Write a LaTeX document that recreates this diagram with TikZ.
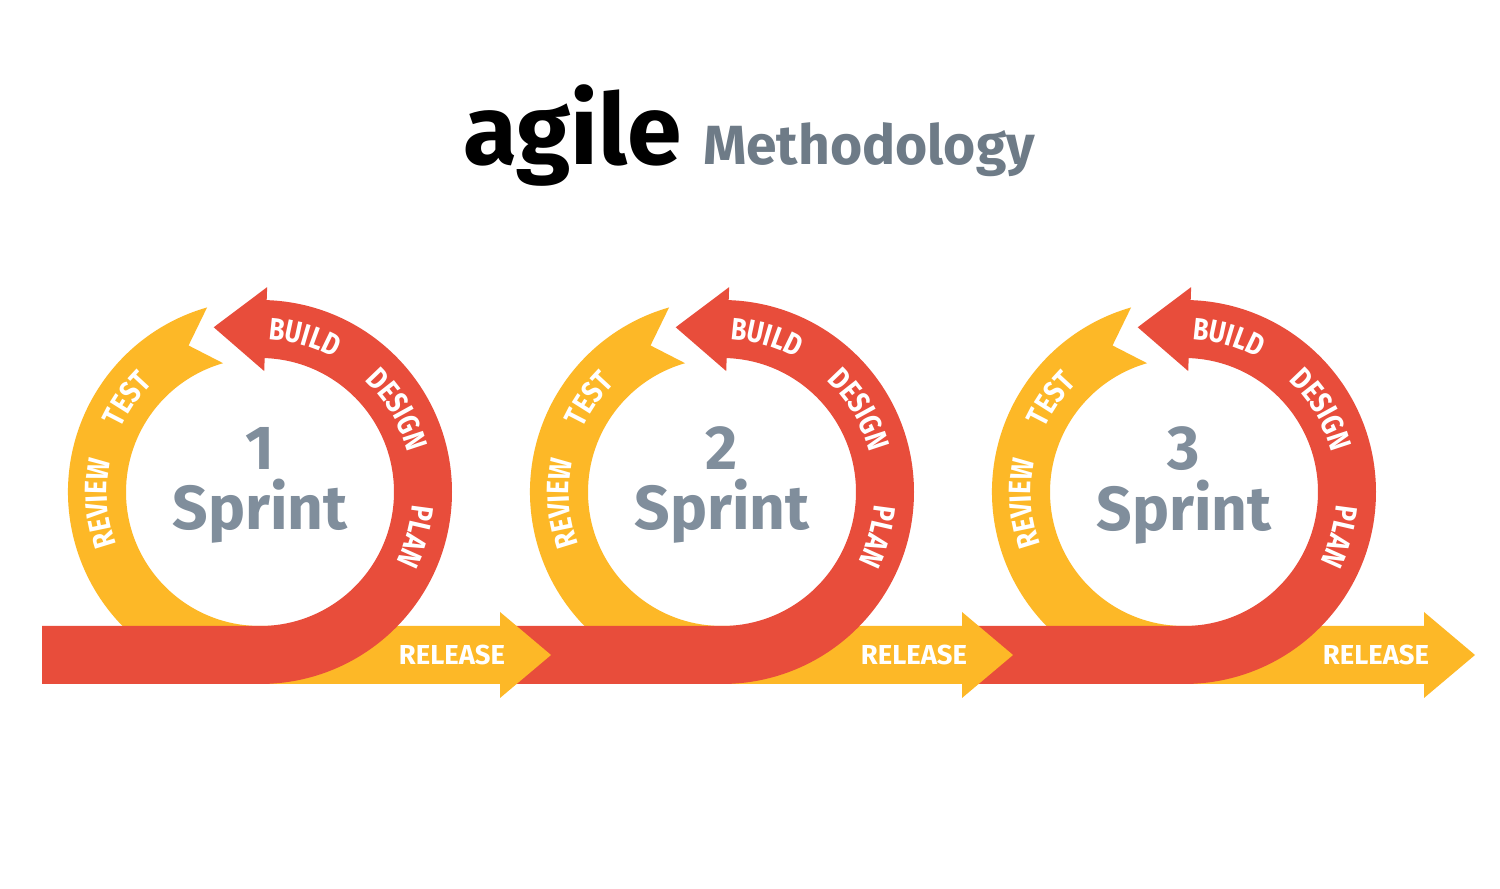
\documentclass[tikz,border=0pt]{standalone}
\usepackage{fontspec}
\setmainfont{Fira Sans}
\newfontfamily\ringfont[FakeStretch=0.82, LetterSpace=6]{Fira Sans}
\usetikzlibrary{positioning, calc, decorations.text}

\definecolor{sprintred}{HTML}{E84D3B}
\definecolor{sprintyellow}{HTML}{FDB827}
\definecolor{sprintgray}{HTML}{808E9C}
\definecolor{titlegray}{HTML}{6E7B87}

\newcommand{\ringlabel}[2]{%
  \path[decorate, decoration={text along path, text align=center, text color=white,
    text={|\ringfont\bfseries\fontsize{8.8}{10}\selectfont|#2}}]
    ({#1+30}:1.53) arc[start angle=#1+30, end angle=#1-30, radius=1.53];}

\begin{document}
\begin{tikzpicture}
    \tikzset{
      headline/.style={inner sep=0pt, font=\bfseries\fontsize{28}{30}\selectfont},
      subline/.style={inner sep=0pt, text=titlegray, font=\bfseries\fontsize{15.7}{18}\selectfont},
      sprintnum/.style={inner sep=0pt, text=sprintgray, font=\bfseries\fontsize{17.7}{18}\selectfont},
      releasetext/.style={inner sep=0pt, text=white, font=\bfseries\fontsize{7.8}{9}\selectfont}
    }
    \useasboundingbox[fill=white] (0,0) rectangle (15,8.89);

    \node[headline, anchor=base west] (agile) at (4.63,7.24) {agile};
    \node[subline, base right=0.2cm of agile] (method) {Methodology};

    \foreach \k/\n in {2/3,1/2,0/1}{
      \begin{scope}[shift={(2.60+4.62*\k,3.97)}]
        \fill[sprintyellow] (106:1.92) arc[start angle=106, end angle=270, radius=1.92]
          -- (2.40,-1.92) -- (2.40,-2.06) -- (2.91,-1.63) -- (2.40,-1.20) -- (2.40,-1.34)
          -- (0,-1.34) arc[start angle=270, end angle=106, radius=1.34] -- (116:1.63) -- cycle;
        \fill[sprintred] (-2.18,-1.92) -- (0,-1.92) arc[start angle=-90, end angle=88, radius=1.92]
          -- (88:2.05) -- ($(88:1.63)+(178:0.52)$) -- (88:1.21) -- (88:1.34)
          arc[start angle=88, end angle=-90, radius=1.34] -- (-2.18,-1.34) -- cycle;
        \ringlabel{74}{BUILD}
        \ringlabel{31}{DESIGN}
        \ringlabel{-16}{PLAN}
        \ringlabel{145}{TEST}
        \ringlabel{184}{REVIEW}
        \node[releasetext] (release\n) at (1.92,-1.63) {RELEASE};
        \node[sprintnum, anchor=base] (num\n) at (0,0.22) {\n};
        \node[sprintnum, below=0.08cm of num\n] (sprint\n) {Sprint};
      \end{scope}
    }
\end{tikzpicture}
\end{document}
